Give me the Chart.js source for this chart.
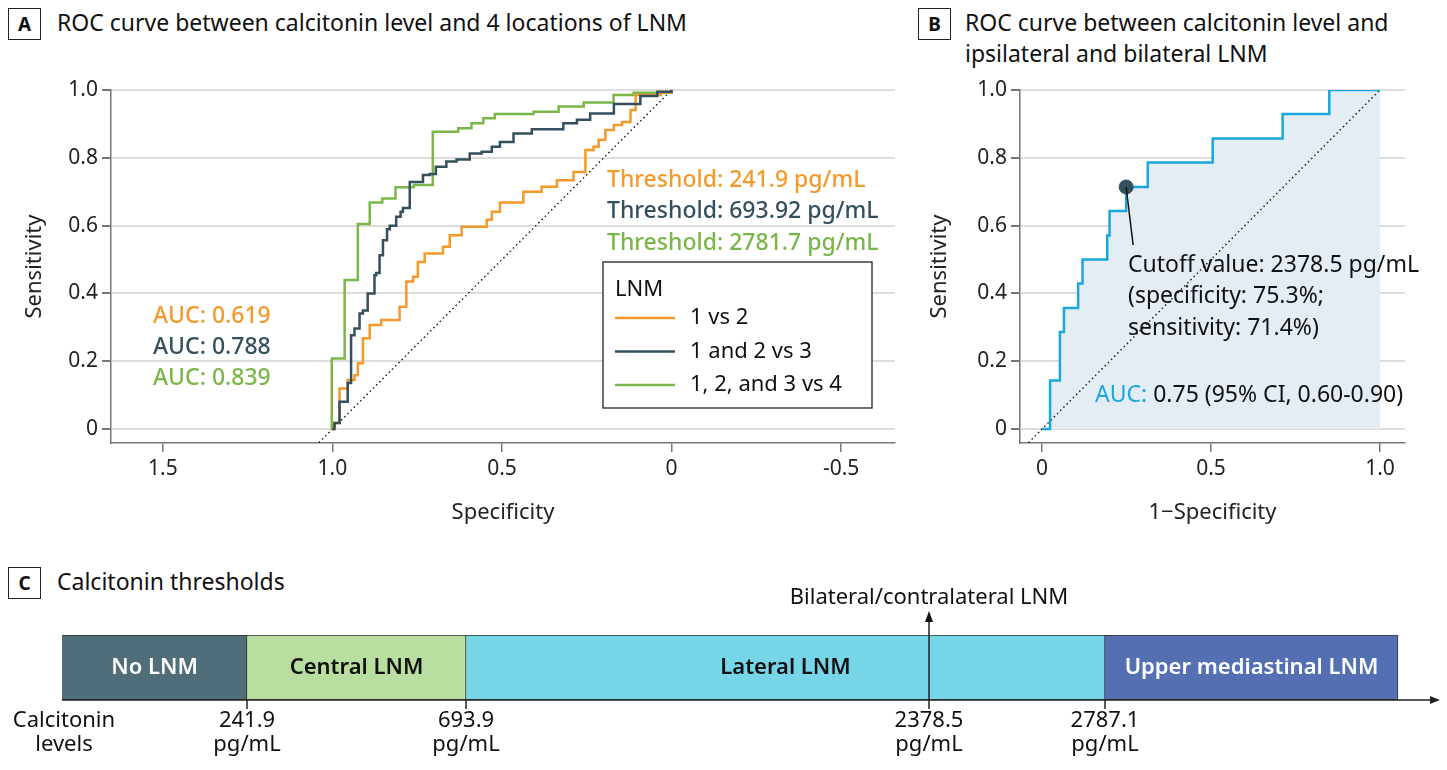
<!DOCTYPE html>
<html><head><meta charset="utf-8">
<script src="https://cdn.jsdelivr.net/npm/chart.js@4.4.1/dist/chart.umd.min.js"></script>
<style>
body{margin:0;width:1447px;height:770px;background:#fff;position:relative;overflow:hidden;font-family:'Noto Sans',sans-serif;color:#111}
canvas{position:absolute}
.box{position:absolute;border:1.5px solid #222;font-weight:700;font-size:19px;text-align:center;line-height:30px;width:31px;height:30px}
.ttl{position:absolute;font-size:23px;line-height:31px}
</style></head><body>
<div class="box" style="left:8px;top:8px">A</div>
<div class="ttl" style="left:57px;top:7px">ROC curve between calcitonin level and 4 locations of LNM</div>
<div class="box" style="left:918px;top:8px">B</div>
<div class="ttl" style="left:965px;top:7px">ROC curve between calcitonin level and<br>ipsilateral and bilateral LNM</div>
<div class="box" style="left:8px;top:567px">C</div>
<div class="ttl" style="left:57px;top:566px">Calcitonin thresholds</div>
<div style="position:absolute;left:0;top:60px;width:905px;height:470px"><canvas id="a"></canvas></div>
<div style="position:absolute;left:905px;top:60px;width:542px;height:470px"><canvas id="b"></canvas></div>
<div style="position:absolute;left:0;top:560px;width:1447px;height:210px"><canvas id="c"></canvas></div>
<script>
// ---------- Panel A data (specificity, sensitivity) ----------
const specOrange=[1.0,0.994,0.979,0.955,0.935,0.925,0.910,0.890,0.856,0.802,0.782,0.762,0.748,0.728,0.674,0.654,0.619,0.545,0.530,0.506,0.437,0.383,0.338,0.289,0.254,0.230,0.215,0.195,0.170,0.146,0.121,0.106,0.032,0.0];
const sensOrange=[0.0,0.018,0.120,0.145,0.159,0.194,0.268,0.307,0.322,0.361,0.435,0.449,0.493,0.518,0.538,0.572,0.597,0.617,0.641,0.668,0.700,0.715,0.734,0.758,0.823,0.833,0.853,0.882,0.897,0.906,0.941,0.985,0.992,1.0];
const specNavy=[1.0,0.994,0.979,0.955,0.945,0.935,0.920,0.910,0.896,0.876,0.871,0.861,0.851,0.839,0.831,0.812,0.799,0.792,0.772,0.733,0.713,0.695,0.664,0.634,0.595,0.560,0.530,0.506,0.466,0.412,0.319,0.279,0.240,0.170,0.092,0.042,0.0];
const sensNavy=[0.0,0.018,0.081,0.136,0.277,0.297,0.341,0.350,0.400,0.454,0.460,0.513,0.557,0.589,0.600,0.626,0.641,0.652,0.729,0.749,0.752,0.774,0.789,0.795,0.813,0.818,0.833,0.847,0.872,0.884,0.902,0.912,0.931,0.959,0.982,0.995,1.0];
const specGreen=[1.0,1.002,0.964,0.925,0.890,0.853,0.814,0.760,0.704,0.629,0.590,0.555,0.521,0.407,0.333,0.259,0.171,0.112,0.0];
const sensGreen=[0.0,0.208,0.440,0.605,0.668,0.680,0.713,0.720,0.877,0.887,0.902,0.917,0.929,0.936,0.951,0.963,0.985,0.992,1.0];
const seriesNames=['1 vs 2','1 and 2 vs 3','1, 2, and 3 vs 4'];
const aucA=['0.619','0.788','0.839'];
const thresholdsA=['241.9','693.92','2781.7'];
const colorsA=['#f39a2b','#34505e','#7ab648'];
const xTicksA=[1.5,1.0,0.5,0,-0.5];
const yTicks=[0,0.2,0.4,0.6,0.8,1.0];
// ---------- Panel B data ----------
const fprB=[0.0,0.024,0.053,0.065,0.107,0.120,0.193,0.200,0.249,0.313,0.505,0.712,0.850,1.0];
const sensB=[0.0,0.143,0.286,0.357,0.429,0.500,0.571,0.643,0.714,0.786,0.857,0.929,1.0,1.0];
const cutoffB={fpr:0.249,sens:0.714};
const xTicksB=[0,0.5,1.0];
// ---------- Panel C data ----------
const segLabels=['No LNM','Central LNM','Lateral LNM','Upper mediastinal LNM'];
const segSpan=[185,219,639,293];
const segColors=['#4f6e7a','#b8dea0','#76d6e8','#5470b3'];
const segText=['#fff','#111','#111','#fff'];
const boundaryLabels=['241.9','693.9','2787.1'];
const markerLabel='2378.5';
const markerSpan=867;

const F="'Noto Sans',sans-serif";
const pts=(xs,ys)=>xs.map((x,i)=>({x,y:ys[i]}));
function fixTicks(list){return s=>{s.ticks=list.map(v=>({value:v}));};}
const fmt=v=>v===0?'0':v.toFixed(1);

// ---------- Chart A ----------
new Chart(document.getElementById('a'),{
 type:'line',
 data:{datasets:[
  {data:pts(specOrange,sensOrange),borderColor:colorsA[0],borderWidth:2.5,stepped:'before',pointRadius:0,order:2},
  {data:pts(specNavy,sensNavy),borderColor:colorsA[1],borderWidth:2.5,stepped:'before',pointRadius:0,order:1},
  {data:pts(specGreen,sensGreen),borderColor:colorsA[2],borderWidth:2.5,stepped:'before',pointRadius:0,order:3},
  {data:[{x:1.04,y:-0.04},{x:0,y:1}],borderColor:'#222',borderWidth:1.5,borderDash:[1.5,3],pointRadius:0,order:4}
 ]},
 options:{responsive:true,maintainAspectRatio:false,animation:false,
  layout:{padding:{top:30,right:10,left:0,bottom:0}},
  plugins:{legend:{display:false},tooltip:{enabled:false}},
  scales:{
   x:{type:'linear',reverse:true,min:-0.659,max:1.653,afterBuildTicks:fixTicks(xTicksA),
      afterFit:s=>{s.height=87;},
      border:{color:'#777',width:1.5},
      grid:{drawOnChartArea:false,tickColor:'#777',tickLength:9,lineWidth:1.5},
      ticks:{font:{family:F,size:21},color:'#222',padding:4,callback:fmt},
      title:{display:true,text:'Specificity',font:{family:F,size:22},color:'#222',padding:{top:2}}},
   y:{type:'linear',min:-0.041,max:1.0,afterBuildTicks:fixTicks(yTicks),
      afterFit:s=>{s.width=111;},
      border:{color:'#777',width:1.5},
      grid:{color:'#dddddd',lineWidth:2,tickColor:'#777',tickLength:9},
      ticks:{font:{family:F,size:21},color:'#222',padding:4,callback:fmt},
      title:{display:true,text:'Sensitivity',font:{family:F,size:22},color:'#222',padding:{bottom:0,top:22}}}
  }},
 plugins:[{id:'annA',afterDraw(c){
  const g=c.ctx;g.save();g.textBaseline='middle';
  g.font='500 23px '+F;
  thresholdsA.forEach((t,i)=>{g.fillStyle=colorsA[i];g.fillText('Threshold: '+t+' pg/mL',607,120+i*31.5);});
  aucA.forEach((t,i)=>{g.fillStyle=colorsA[i];g.fillText('AUC: '+t,153,256+i*31);});
  g.fillStyle='#fff';g.strokeStyle='#222';g.lineWidth=1.3;
  g.fillRect(603,202,269,146);g.strokeRect(603,202,269,146);
  g.font='22px '+F;g.fillStyle='#111';g.fillText('LNM',615,230);
  seriesNames.forEach((n,i)=>{const y=258+i*33.5;g.strokeStyle=colorsA[i];g.lineWidth=2.5;
    g.beginPath();g.moveTo(615,y);g.lineTo(675,y);g.stroke();g.fillStyle='#111';g.fillText(n,690,y);});
  g.restore();}}]
});

// ---------- Chart B ----------
new Chart(document.getElementById('b'),{
 type:'line',
 data:{datasets:[
  {data:[{x:cutoffB.fpr,y:cutoffB.sens}],showLine:false,pointRadius:7,pointBackgroundColor:'#34505e',pointBorderColor:'#34505e',order:0},
  {data:pts(fprB,sensB),borderColor:'#1aa7e0',borderWidth:2.5,stepped:'before',pointRadius:0,fill:'origin',backgroundColor:'#e4ecf4',order:1},
  {data:[{x:-0.04,y:-0.04},{x:1,y:1}],borderColor:'#222',borderWidth:1.5,borderDash:[1.5,3],pointRadius:0,order:2}
 ]},
 options:{responsive:true,maintainAspectRatio:false,animation:false,
  layout:{padding:{top:30,right:42,left:0,bottom:0}},
  plugins:{legend:{display:false},tooltip:{enabled:false},filler:{drawTime:'beforeDatasetsDraw'}},
  scales:{
   x:{type:'linear',min:-0.065,max:1.074,afterBuildTicks:fixTicks(xTicksB),
      afterFit:s=>{s.height=87;},
      border:{color:'#777',width:1.5},
      grid:{drawOnChartArea:false,tickColor:'#777',tickLength:9,lineWidth:1.5},
      ticks:{font:{family:F,size:21},color:'#222',padding:4,callback:fmt},
      title:{display:true,text:'1−Specificity',font:{family:F,size:22},color:'#222',padding:{top:2}}},
   y:{type:'linear',min:-0.041,max:1.0,afterBuildTicks:fixTicks(yTicks),
      afterFit:s=>{s.width=115;},
      border:{color:'#777',width:1.5},
      grid:{color:'#dddddd',lineWidth:2,tickColor:'#777',tickLength:9},
      ticks:{font:{family:F,size:21},color:'#222',padding:4,callback:fmt},
      title:{display:true,text:'Sensitivity',font:{family:F,size:22},color:'#222',padding:{bottom:0,top:22}}}
  }},
 plugins:[{id:'annB',afterDraw(c){
  const g=c.ctx,xs=c.scales.x,ys=c.scales.y;g.save();
  const px=xs.getPixelForValue(cutoffB.fpr),py=ys.getPixelForValue(cutoffB.sens);
  g.strokeStyle='#111';g.lineWidth=1.5;g.beginPath();g.moveTo(px,py);g.lineTo(px+7,py+58);g.stroke();
  g.font='23px '+F;g.fillStyle='#111';g.textBaseline='middle';
  ['Cutoff value: 2378.5 pg/mL','(specificity: 75.3%;','sensitivity: 71.4%)'].forEach((t,i)=>g.fillText(t,223,205+i*31.5));
  g.fillStyle='#1aa7e0';g.fillText('AUC:',190,335);const w=g.measureText('AUC: ').width;
  g.fillStyle='#111';g.fillText('0.75 (95% CI, 0.60-0.90)',190+w,335);
  g.restore();}}]
});

// ---------- Chart C ----------
const totalSpan=1378;
new Chart(document.getElementById('c'),{
 type:'bar',
 data:{labels:[''],datasets:segSpan.map((v,i)=>({label:segLabels[i],data:[v],backgroundColor:segColors[i],borderColor:'#333',borderWidth:1,barPercentage:1,categoryPercentage:1}))},
 options:{indexAxis:'y',responsive:true,maintainAspectRatio:false,animation:false,
  layout:{padding:{top:75,bottom:70,left:62,right:7}},
  plugins:{legend:{display:false},tooltip:{enabled:false}},
  scales:{x:{stacked:true,display:false,min:0,max:totalSpan},y:{stacked:true,display:false}}},
 plugins:[{id:'annC',afterDraw(c){
  const g=c.ctx,xs=c.scales.x,a=c.chartArea;g.save();
  const yb=a.bottom;
  g.font='600 22px '+F;g.textAlign='center';g.textBaseline='middle';
  let acc=0;const bounds=[];
  segSpan.forEach((v,i)=>{const x0=xs.getPixelForValue(acc),x1=xs.getPixelForValue(acc+v);
    g.fillStyle=segText[i];g.fillText(segLabels[i],(x0+x1)/2,(a.top+yb)/2);acc+=v;bounds.push(x1);});
  g.strokeStyle='#222';g.lineWidth=1.5;g.beginPath();g.moveTo(a.left,yb);g.lineTo(a.right-2,yb);g.stroke();
  g.fillStyle='#222';g.beginPath();g.moveTo(a.right,yb);g.lineTo(a.right-10,yb-4);g.lineTo(a.right-10,yb+4);g.fill();
  g.font='22px '+F;g.fillStyle='#111';
  const ticks=[[bounds[0],boundaryLabels[0]],[bounds[1],boundaryLabels[1]],[xs.getPixelForValue(markerSpan),markerLabel],[bounds[2],boundaryLabels[2]]];
  ticks.forEach(([x,l])=>{g.beginPath();g.moveTo(x,yb);g.lineTo(x,yb+9);g.stroke();g.fillText(l,x,yb+21);g.fillText('pg/mL',x,yb+45);});
  g.fillText('Calcitonin',64,yb+21);g.fillText('levels',64,yb+45);
  const mx=xs.getPixelForValue(markerSpan);
  g.beginPath();g.moveTo(mx,yb);g.lineTo(mx,a.top-18);g.stroke();
  g.beginPath();g.moveTo(mx,a.top-24);g.lineTo(mx-4,a.top-13);g.lineTo(mx+4,a.top-13);g.fill();
  g.fillText('Bilateral/contralateral LNM',mx,a.top-37);
  g.restore();}}]
});
</script></body></html>
